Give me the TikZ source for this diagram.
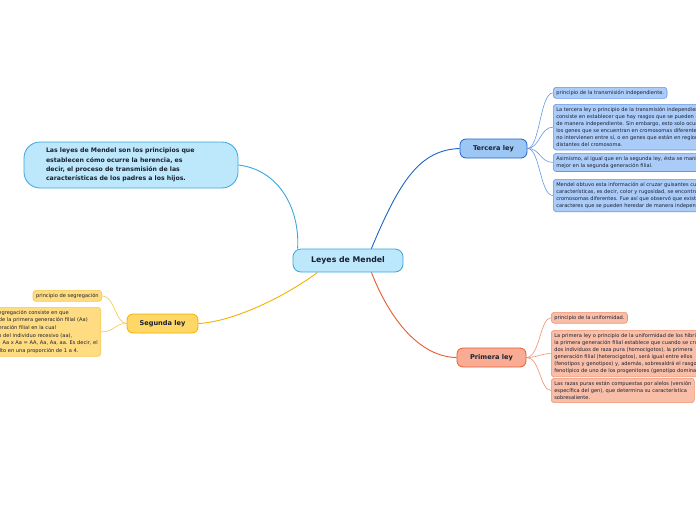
\documentclass[tikz,border=0pt]{standalone}
\usepackage{fontspec}
\setmainfont{DejaVu Sans}
\definecolor{cfill}{HTML}{BDE7FB}\definecolor{cdraw}{HTML}{3AA6DE}
\definecolor{tfill}{HTML}{9CC6F4}\definecolor{tdraw}{HTML}{1E64C8}
\definecolor{bfill}{HTML}{ABCBF8}\definecolor{bdraw}{HTML}{6496E6}
\definecolor{pfill}{HTML}{F7AC93}\definecolor{pdraw}{HTML}{E85A30}
\definecolor{sfill}{HTML}{F9BEA8}\definecolor{sdraw}{HTML}{F0906E}
\definecolor{yfill}{HTML}{FFD766}\definecolor{ydraw}{HTML}{F2B200}
\definecolor{lfill}{HTML}{FFDC82}\definecolor{ldraw}{HTML}{F5C84A}
\definecolor{txt}{HTML}{1A2030}
\begin{document}
\begin{tikzpicture}[x=1pt,y=-1pt,
 leaf/.style={draw, line width=0.6pt, rounded corners=3pt, anchor=north west, align=left, inner sep=3pt, font=\fontsize{5.1}{7.1}\selectfont, text=txt},
 main/.style={draw, line width=0.8pt, rounded corners=6pt, font=\bfseries\fontsize{6.6}{8}\selectfont, text=txt, minimum height=19pt},
 conn/.style={line width=0.9pt}, sub/.style={line width=0.6pt}]
\path[use as bounding box] (0,0) rectangle (696,520);
\clip (0,0) rectangle (696,520);
\fill[white] (0,0) rectangle (696,520);
\node[main, fill=cfill, draw=cdraw, minimum width=110pt, minimum height=23pt, rounded corners=8pt, font=\bfseries\fontsize{7.8}{9}\selectfont] (c) at (348,260.5) {Leyes de Mendel};
\node[draw=cdraw, fill=cfill, line width=0.8pt, rounded corners=16pt, minimum width=214pt, minimum height=46pt, text width=190pt, align=left, font=\bfseries\fontsize{6.2}{9.2}\selectfont, text=txt] (intro) at (131,165) {\hspace*{10pt}Las leyes de Mendel son los principios que\\\hspace*{10pt}establecen cómo ocurre la herencia, es\\\hspace*{10pt}decir, el proceso de transmisión de las\\\hspace*{10pt}características de los padres a los hijos.};
\node[main, fill=tfill, draw=tdraw, minimum width=67pt] (t) at (493.5,148.5) {Tercera ley};
\node[main, fill=pfill, draw=pdraw, minimum width=69pt] (p) at (491.5,357.5) {Primera ley};
\node[main, fill=yfill, draw=ydraw, minimum width=71pt] (s) at (162.5,323.5) {Segunda ley};
\draw[conn, cdraw] ([xshift=5pt]c.north west) .. controls (300,210) and (280,170) .. (intro.east);
\draw[conn, tdraw] ([xshift=-32pt]c.north east) .. controls (400,180) and (420,150) .. (t.west);
\draw[conn, pdraw] ([xshift=-32pt]c.south east) .. controls (390,320) and (420,357) .. (p.west);
\draw[conn, ydraw] ([xshift=25pt]c.south west) .. controls (280,300) and (230,322) .. (s.east);
\node[leaf, fill=bfill, draw=bdraw] (t1) at (553,87) {principio de la transmisión independiente.};
\node[leaf, fill=bfill, draw=bdraw] (t2) at (553,104) {La tercera ley o principio de la transmisión independiente\\consiste en establecer que hay rasgos que se pueden heredar\\de manera independiente. Sin embargo, esto solo ocurre en\\los genes que se encuentran en cromosomas diferentes y que\\no intervienen entre sí, o en genes que están en regiones muy\\distantes del cromosoma.};
\node[leaf, fill=bfill, draw=bdraw] (t3) at (553,153) {Asimismo, al igual que en la segunda ley, ésta se manifiesta\\mejor en la segunda generación filial.};
\node[leaf, fill=bfill, draw=bdraw] (t4) at (553,179) {Mendel obtuvo esta información al cruzar guisantes cuyas\\características, es decir, color y rugosidad, se encontraban en\\cromosomas diferentes. Fue así que observó que existen\\caracteres que se pueden heredar de manera independiente.};
\foreach \n in {t1,t2,t3,t4}\draw[sub, bdraw] (t.east) .. controls (540,148) and (540,0|-\n.west) .. (\n.west);
\node[leaf, fill=sfill, draw=sdraw] (p1) at (551,312) {principio de la uniformidad.};
\node[leaf, fill=sfill, draw=sdraw] (p2) at (551,330) {La primera ley o principio de la uniformidad de los híbridos de\\la primera generación filial establece que cuando se cruzan\\dos individuos de raza pura (homocigotos), la primera\\generación filial (heterocigotos), será igual entre ellos\\(fenotipos y genotipos) y, además, sobresaldrá el rasgo\\fenotípico de uno de los progenitores (genotipo dominante).};
\node[leaf, fill=sfill, draw=sdraw] (p3) at (551,378) {Las razas puras están compuestas por alelos (versión\\específica del gen), que determina su característica\\sobresaliente.};
\foreach \n in {p1,p2,p3}\draw[sub, sdraw] (p.east) .. controls (540,357) and (540,0|-\n.west) .. (\n.west);
\node[leaf, fill=lfill, draw=ldraw, anchor=north east] (s1) at (102,290) {principio de segregación};
\node[leaf, fill=lfill, draw=ldraw, anchor=north east, font=\fontsize{5.1}{7.6}\selectfont] (s2) at (101,307) {La segunda ley o principio de la segregación consiste en que\\el cruzamiento de dos individuos de la primera generación filial (Aa)\\tendrá lugar en una segunda generación filial en la cual\\reaparecerá el fenotipo y genotipo del individuo recesivo (aa),\\obteniendo el siguiente resultado: Aa x Aa = AA, Aa, Aa, aa. Es decir, el\\carácter recesivo permanecía oculto en una proporción de 1 a 4.};
\foreach \n in {s1,s2}\draw[sub, ldraw] (s.west) .. controls (115,323) and (115,0|-\n.east) .. (\n.east);
\end{tikzpicture}
\end{document}
